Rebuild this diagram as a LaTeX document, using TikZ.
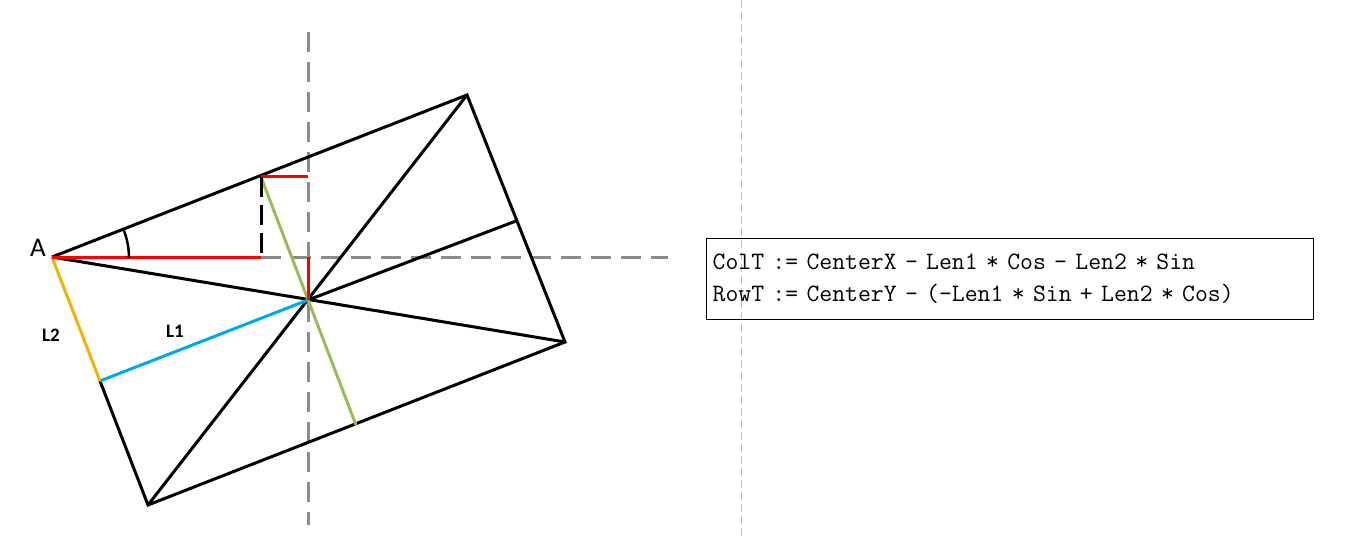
\documentclass[tikz,border=0pt]{standalone}
\usepackage{fontspec}
\setmainfont{Carlito}
\begin{document}
\begin{tikzpicture}[x=1pt,y=-1pt,
  blk/.style={line width=3pt,black},
  gdash/.style={line width=3pt,gray!90,dash pattern=on 20pt off 10pt},
  red line/.style={line width=3pt,red}]
\useasboundingbox (0,0) rectangle (1351,540);
\fill[white] (0,0) rectangle (1351,540);
\coordinate (A) at (52,257);
\coordinate (B) at (467,95);
\coordinate (C) at (565,342);
\coordinate (D) at (148,505);
\coordinate (O) at (308,300);
\coordinate (T) at (261,177);
\coordinate (Bm) at (356,425);
\coordinate (R) at (516,221);
\coordinate (Lm) at (100,381);
\coordinate (H) at (261,257);
\coordinate (V1) at (308,32);
\coordinate (V2) at (308,525);
\coordinate (HE) at (668,257);
\coordinate (P1) at (741,0);
\coordinate (P2) at (741,540);
\draw[gray!50,dash pattern=on 8pt off 4pt,line width=1pt] (P1) -- (P2);
\draw[gdash] (V1) -- (V2);
\draw[gdash] (H) -- (HE);
\draw[blk] (A) -- (B) -- (C) -- (D) -- (Lm);
\draw[blk] (A) -- (C);
\draw[blk] (B) -- (D);
\draw[blk] (O) -- (R);
\draw[line width=3pt,color={rgb,255:red,155;green,187;blue,89}] (T) -- (Bm);
\draw[line width=3pt,color={rgb,255:red,0;green,170;blue,230}] (O) -- (Lm);
\draw[line width=3pt,color={rgb,255:red,240;green,180;blue,0}] (A) -- (Lm);
\draw[red line] (A) -- (H);
\draw[red line] (T) -- (308,177);
\draw[red line] (308,257) -- (O);
\draw[line width=3pt,dash pattern=on 20pt off 8pt] (T) -- (H);
\draw[line width=2.5pt] (129,258) arc[start angle=0,end angle=-21.3,radius=77];
\node[font=\fontsize{27}{27}\selectfont] (lA) at (38,248) {A};
\node[font=\bfseries\fontsize{19}{19}\selectfont] (l2) at (51,335) {L2};
\node[font=\bfseries\fontsize{19}{19}\selectfont] (l1) at (175,331) {L1};
\node[draw,line width=1.3pt,anchor=north west,minimum width=607pt,minimum height=81pt,align=left,text width=595pt,inner sep=6pt,font=\ttfamily\fontsize{25}{32}\selectfont] (box) at (706,238)
{ColT := CenterX - Len1 * Cos - Len2 * Sin\\RowT := CenterY - (-Len1 * Sin + Len2 * Cos)};
\end{tikzpicture}
\end{document}
